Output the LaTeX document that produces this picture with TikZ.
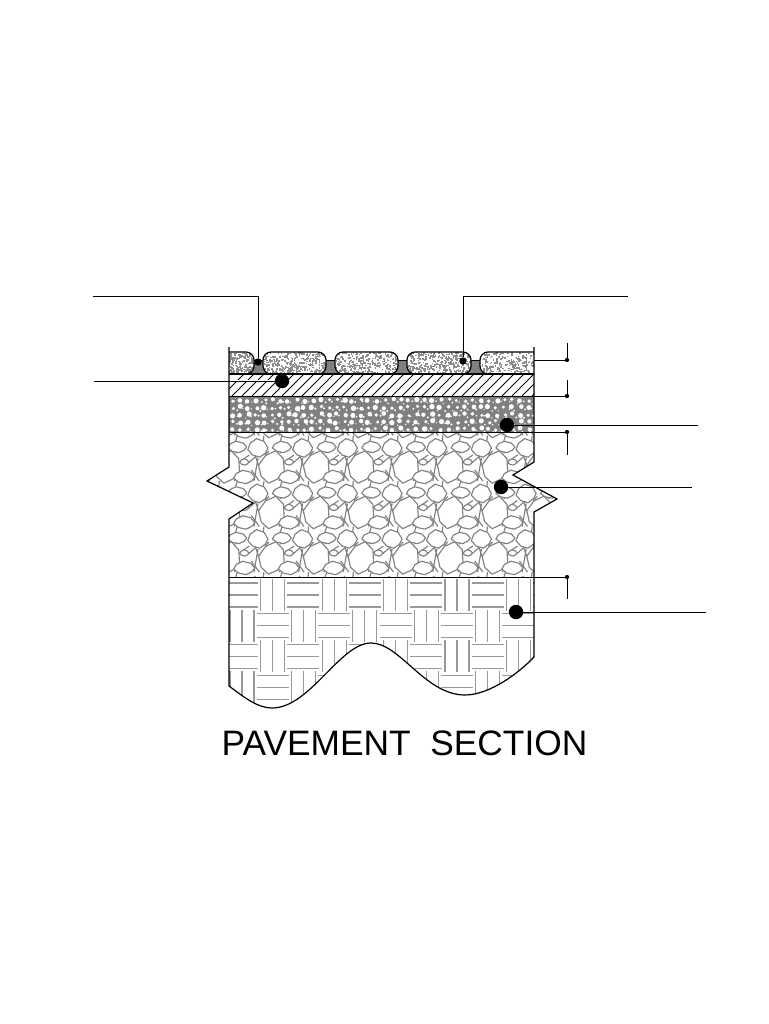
\documentclass[tikz,border=0pt]{standalone}
\usepackage{fontspec}
\setmainfont{Liberation Sans}
\tikzset{
    outline/.style={line width=0.9pt, black},
    leader/.style={line width=0.75pt, black},
    rockline/.style={line width=0.85pt, draw=black!50, fill=white, line join=round},
    bricklines/.style={line width=0.9pt, black!40},
    hatchline/.style={line width=0.75pt, black},
    bigdot/.style={circle, fill=black, inner sep=0pt, minimum size=10.8pt},
    smalldot/.style={circle, fill=black, inner sep=0pt, minimum size=5.6pt},
    tickdot/.style={circle, fill=black, inner sep=0pt, minimum size=3.2pt}
}
% one irregular stone: centre x, centre y, radius x, radius y, turn
\newcommand{\rock}[5]{
    \draw[rockline, shift={(#1,#2)}, rotate=#5, xscale=#3, yscale=#4]
        (0:1) -- (38:.93) -- (80:1.04) -- (125:.95) -- (170:1.03)
        -- (215:.94) -- (262:1.05) -- (310:.95) -- cycle;
}
\begin{document}
\begin{tikzpicture}[x=0.75pt, y=-0.75pt]
    \useasboundingbox (0,0) rectangle (768,1024);
    \pgfmathsetseed{12}

    % Stone layer
    \begin{scope}
        \clip (229,432) -- (229,467) -- (207,481) -- (253,503) -- (229,519) -- (229,577)
            -- (534,577) -- (534,512) -- (557,499) -- (513,475) -- (534,462) -- (534,432) -- cycle;
        \foreach \i in {-1,...,6} {
            \foreach \j in {-1,...,2} {
                \begin{scope}[shift={({272+44.7*\i},{467+45.5*\j})}]
                    \draw[line width=0.85pt, black!50] (-7,-12) -- (-3,-16) (8,-14) -- (12,-16)
                        (12,-5) -- (22,-12) (11,5) -- (7,14) (-10,8) -- (-17,-12)
                        (-14,-9) -- (-18,14) (21,-4) -- (30,-12) (24,3) -- (32,14)
                        (-8,14) -- (-9,22) (10,14) -- (7,24) (28,18) -- (24,24);
                    \rock{0}{0}{13}{16}{-20}
                    \rock{-14}{-19}{10}{9}{0}
                    \rock{10}{-20}{9.5}{5.5}{0}
                    \rock{17}{-5}{4.5}{3}{0}
                    \rock{17}{10}{10.5}{6.5}{0}
                \end{scope}
            }
        }
    \end{scope}

    % Soil layer
    \begin{scope}
        \clip (229,577) -- (229,686) .. controls (245,698) and (258,708) .. (272,708)
            .. controls (310,708) and (340,643) .. (371,643)
            .. controls (400,643) and (425,695) .. (465,695)
            .. controls (490,695) and (520,672) .. (534,657) -- (534,577) -- cycle;
        \foreach \i in {0,...,10} {
            \foreach \j in {0,...,3} {
                \pgfmathsetmacro{\cx}{242+30.7*\i}
                \pgfmathsetmacro{\cy}{595+30.7*\j}
                \ifodd\numexpr\i+\j\relax
                    \draw[bricklines] (\cx-12,\cy-16) -- (\cx-12,\cy+16)
                        (\cx,\cy-16) -- (\cx,\cy+16) (\cx+12,\cy-16) -- (\cx+12,\cy+16);
                \else
                    \draw[bricklines] (\cx-16,\cy-12) -- (\cx+16,\cy-12)
                        (\cx-16,\cy) -- (\cx+16,\cy) (\cx-16,\cy+12) -- (\cx+16,\cy+12);
                \fi
            }
        }
    \end{scope}

    % Gravel layer
    \begin{scope}
        \clip (229,396) rectangle (534,432);
        \fill[black!50] (229,396) rectangle (534,432);
        \foreach \i in {0,...,38} {
            \foreach \j in {0,...,4} {
                \fill[white] ({231+8*\i+3*rnd},{399+7.2*\j+2.5*rnd}) circle ({1.6+1.1*rnd});
                \fill[white] ({234+8*\i+4*rnd},{401+7.2*\j+3*rnd}) circle ({0.6+0.6*rnd});
            }
        }
    \end{scope}

    % Hatched layer
    \begin{scope}
        \clip (229,374) rectangle (534,396);
        \foreach \k in {0,...,34} {
            \draw[hatchline] ({222+10*\k},396) -- ++(24,-24);
        }
        \draw[white, line width=2.2pt] (229,381) -- (282,381);
    \end{scope}

    % Pavers and joints
    \begin{scope}
        \clip (229,340) rectangle (534,374.5);
        \fill[black!50] (229,360) rectangle (534,374);
        \draw[leader] (229,360) -- (534,360);
        \foreach \xa/\xb in {205/254, 263/326, 335/398, 407/471, 480/560} {
            \begin{scope}
                \path[clip, rounded corners=6pt] (\xa,352) rectangle (\xb,374);
                \fill[white] (\xa,352) rectangle (\xb,374);
                \foreach \k in {1,...,300} {
                    \fill[black!45] ({\xa+(\xb-\xa)*rnd},{352+22*rnd}) rectangle ++(1.6,1.6);
                }
            \end{scope}
            \draw[outline, rounded corners=6pt] (\xa,352) rectangle (\xb,374);
        }
    \end{scope}

    % Outline and layer lines
    \draw[outline] (229,347) -- (229,467) -- (207,481) -- (253,503) -- (229,519) -- (229,686)
        .. controls (245,698) and (258,708) .. (272,708)
        .. controls (310,708) and (340,643) .. (371,643)
        .. controls (400,643) and (425,695) .. (465,695)
        .. controls (490,695) and (520,672) .. (534,657)
        -- (534,512) -- (557,499) -- (513,475) -- (534,462) -- (534,347);
    \draw[outline] (229,374) -- (534,374);

    % Level ticks
    \foreach \name/\ya/\yb/\xs in {a/360/343/534, b/396/380/229, c/432/455/229, d/577/599/229} {
        \node[tickdot] (tick\name) at (567,\ya) {};
        \coordinate (tickstart\name) at (\xs,\ya);
        \coordinate (tickend\name) at (567,\yb);
        \draw[leader] (tickstart\name) -- (tick\name) -- (tickend\name);
    }

    % Dots
    \node[smalldot] (paverdotl) at (258,362) {};
    \node[smalldot] (paverdotr) at (463,361) {};
    \node[bigdot] (hatchdot) at (282,381) {};
    \node[bigdot] (graveldot) at (507,425) {};
    \node[bigdot] (stonedot) at (501,487) {};
    \node[bigdot] (soildot) at (516,612) {};

    % Leaders
    \coordinate (paverendl) at (93,296);
    \coordinate (paverendr) at (628,296);
    \coordinate (hatchend) at (94,381);
    \coordinate (gravelend) at (698,425);
    \coordinate (stoneend) at (692,487);
    \coordinate (soilend) at (706,612);
    \draw[leader] (paverendl) -| (paverdotl);
    \draw[leader] (paverendr) -| (paverdotr);
    \draw[leader] (hatchend) -- (hatchdot);
    \draw[leader] (gravelend) -- (graveldot);
    \draw[leader] (stoneend) -- (stonedot);
    \draw[leader] (soilend) -- (soildot);

    \node[font=\fontsize{26.5}{30}\selectfont, inner sep=0pt] (title) at (404.5,743) {PAVEMENT\ \ SECTION};
\end{tikzpicture}
\end{document}
